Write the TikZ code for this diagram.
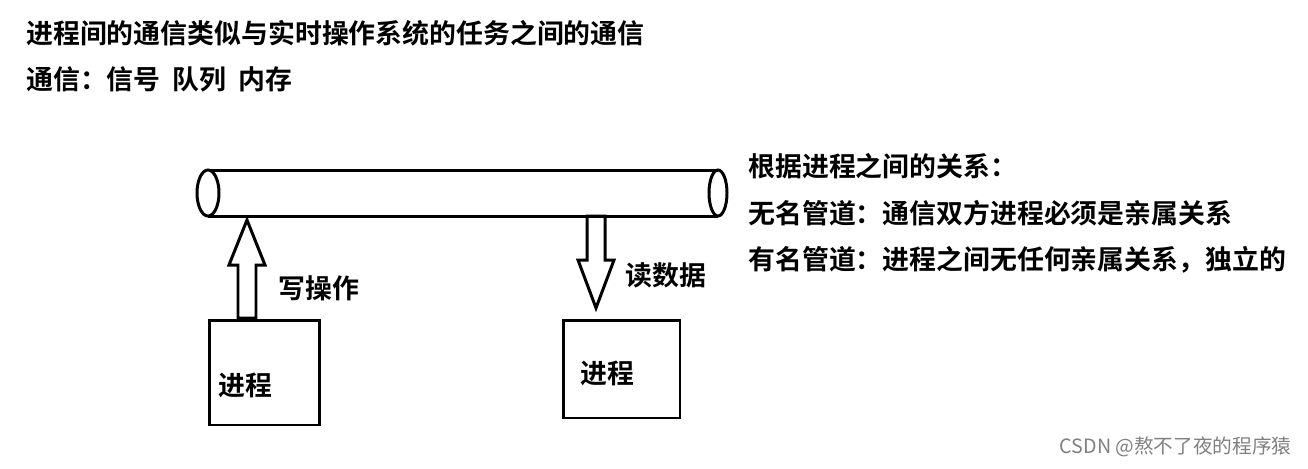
\documentclass[tikz,border=0pt]{standalone}
\usepackage{fontspec}
\setmainfont{Noto Sans CJK SC Bold}
\newfontfamily\wmfont{Noto Sans CJK SC}
\usetikzlibrary{positioning}

\tikzset{
  txt/.style={anchor=west,inner sep=0pt,font=\fontsize{15.3pt}{17pt}\selectfont},
  procbox/.style={draw,line width=1.7pt,minimum width=2.22cm,minimum height=2.1cm,inner sep=0pt},
  thick line/.style={line width=1.7pt}
}

\def\uparrowshape{(238,318) -- (238,265) -- (229,265) -- (247,220) -- (265,265) -- (256,265) -- (256,318) -- cycle}
\def\downarrowshape{(587,216) -- (587,260) -- (578,260) -- (596,308) -- (614,260) -- (605,260) -- (605,216) -- cycle}

\begin{document}
\begin{tikzpicture}[x=0.02cm,y=-0.02cm]
			\useasboundingbox (0,0) rectangle (1308,468);

			% headings
			\node[txt] (title) at (26,33) {进程间的通信类似与实时操作系统的任务之间的通信};
			\node[txt] (kinds) at (26,79) {通信：信号\ \ 队列\ \ 内存};

			% pipe
			\draw[thick line] (208,170) -- (718,170);
			\draw[thick line] (208,216) -- (718,216);
			\draw[thick line,fill=white] (208,193) ellipse (11 and 23);
			\draw[thick line] (718,193) ellipse (9 and 23);

			% write side
			\draw[thick line] \uparrowshape;
			\node[txt] (write) at (278,288) {写操作};
			\node[procbox] (procA) at (264.5,372.5) {};
			\node[txt] (procAlabel) at (218,385) {进程};

			% read side
			\draw[thick line] \downarrowshape;
			\node[txt] (read) at (625,275) {读数据};
			\node[procbox,minimum width=2.34cm,minimum height=1.96cm] (procB) at (621.5,369) {};
			\node[txt] (procBlabel) at (580,373) {进程};

			% relations
			\node[txt] (rel) at (748,166) {根据进程之间的关系：};
			\node[txt] (anon) at (748,213) {无名管道：通信双方进程必须是亲属关系};
			\node[txt] (named) at (748,260) {有名管道：进程之间无任何亲属关系，独立的};

			% watermark
			\node[anchor=east,inner sep=0pt,text=gray,font=\wmfont\fontsize{11.2pt}{13pt}\selectfont] (wm) at (1292,447) {CSDN @熬不了夜的程序猿};
		\end{tikzpicture}
\end{document}
